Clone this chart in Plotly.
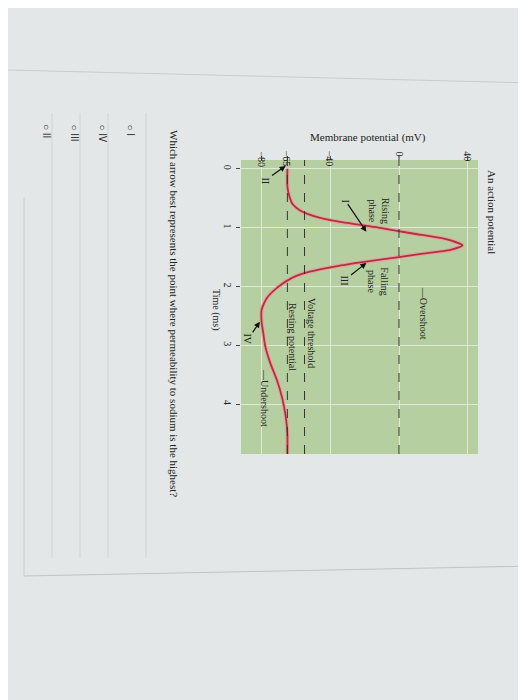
import plotly.graph_objects as go

time_ms = [0, 0.3, 0.45, 0.6, 0.7, 0.8, 0.9, 1.0, 1.1, 1.2, 1.3, 1.38, 1.45, 1.55, 1.65, 1.75, 1.85,
           2.0, 2.2, 2.4, 2.6, 2.8, 3.0, 3.3, 3.6, 3.9, 4.2, 4.5, 4.85]
voltage_mv = [-65, -65, -64, -62, -58, -50, -35, -12, 8, 28, 37, 30, 12, -12, -35, -52, -62,
              -70, -77, -80, -80, -79, -78, -75, -71, -68, -66, -65, -65]
volt_ticks = [40, 0, -40, -65, -80]
volt_labels = ["40", "0", "−40", "−65", "−80"]
time_ticks = [0, 1, 2, 3, 4]
threshold_mv = -55
resting_mv = -65
options = ["I", "IV", "III", "II"]

W, H = 526, 700
L, R, T, B = 233, 470, 152, 446
def px(x): return (x - L) / (R - L)
def py(y): return (B - y) / (B - T)

serif = "Liberation Serif"
fig = go.Figure()
fig.add_trace(go.Scatter(x=voltage_mv, y=time_ms, mode="lines",
                         line=dict(color="#e4a3a3", width=4, shape="spline", smoothing=0.6), hoverinfo="skip"))
fig.add_trace(go.Scatter(x=voltage_mv, y=time_ms, mode="lines",
                         line=dict(color="#b3323a", width=1.8, shape="spline", smoothing=0.6), hoverinfo="skip"))

shapes = []
for v in [0, threshold_mv, resting_mv]:
    shapes.append(dict(type="line", xref="x", yref="paper", x0=v, x1=v, y0=0, y1=1,
                       line=dict(color="#333", width=1, dash="dash")))
shapes += [
    dict(type="line", xref="paper", yref="paper", x0=px(0), y0=py(62), x1=px(526), y1=py(75), line=dict(color="#c8cccc", width=1)),
    dict(type="line", xref="paper", yref="paper", x0=px(16), y0=py(568), x1=px(526), y1=py(558), line=dict(color="#c0c4c4", width=1)),
    dict(type="line", xref="paper", yref="paper", x0=px(16), y0=py(190), x1=px(16), y1=py(568), line=dict(color="#c8cccc", width=1)),
]
for xl in [138, 100, 72, 44]:
    shapes.append(dict(type="line", xref="paper", yref="paper", x0=px(xl), y0=py(105), x1=px(xl), y1=py(550),
                       line=dict(color="#d0d4d4", width=1)))
for v in volt_ticks:
    shapes.append(dict(type="line", xref="x", yref="paper", x0=v, x1=v, y0=1, y1=py(T - 4),
                       line=dict(color="#333", width=1)))

def txt(x, y, s, size=10, font=serif, ref="data", angle=90, **kw):
    d = dict(x=x, y=y, text=s, showarrow=False, textangle=angle, font=dict(family=font, size=size, color="#222"))
    if ref == "paper":
        d.update(xref="paper", yref="paper")
    d.update(kw)
    return d

ann = []
ann.append(txt(px(492), py(160), "An action potential", 11, ref="paper"))
ann.append(txt(px(360), py(121), "Membrane potential (mV)", 11, ref="paper", angle=0))
for v, lab in zip(volt_ticks, volt_labels):
    ann.append(dict(x=v, y=py(141), xref="x", yref="paper", text=lab, showarrow=False, textangle=90,
                    font=dict(family=serif, size=10, color="#222")))
ann.append(txt(px(200), py(302), "Time (ms)", 10, ref="paper"))
ann.append(txt(px(158), py(305), "Which arrow best represents the point where permeability to sodium is the highest?", 11, ref="paper"))
for i, o in enumerate(options):
    ann.append(txt(px(114 - 28 * i), py(114), "○ " + o, 10, font="Open Sans", ref="paper"))
ann.append(txt(14, 2.45, "—Overshoot", 10))
ann.append(txt(-12, 0.72, "Rising<br>phase", 10))
ann.append(txt(-12, 1.92, "Falling<br>phase", 10))
ann.append(txt(-51, 2.8, "Voltage threshold", 10))
ann.append(txt(-62, 2.85, "Resting potential", 10))
ann.append(txt(-78, 3.9, "—Undershoot", 10))
for lab, (tx, ty), (hx, hy) in [("I", (-31, 0.55), (-19, 1.07)), ("III", (-32, 1.9), (-19, 1.6)),
                                ("II", (-78, 0.2), (-66, -0.05)), ("IV", (-88, 2.9), (-81, 2.6))]:
    ann.append(dict(x=hx, y=hy, ax=tx, ay=ty, axref="x", ayref="y", text=lab, showarrow=True,
                    arrowhead=2, arrowsize=1, arrowwidth=1.2, arrowcolor="#111", textangle=90,
                    font=dict(family=serif, size=10, color="#222")))

fig.update_layout(
    width=W, height=H, margin=dict(l=L, r=W - R, t=T, b=H - B),
    paper_bgcolor="#e4e7e7", plot_bgcolor="#b6cfa0", showlegend=False,
    shapes=shapes, annotations=ann,
    xaxis=dict(range=[-92, 46], tickvals=[-80, -40, 0, 40], showticklabels=False, gridcolor="#dfe9d6",
               zeroline=False, ticks=""),
    yaxis=dict(range=[4.85, -0.15], tickvals=time_ticks, tickangle=90, gridcolor="#dfe9d6", zeroline=False,
               tickfont=dict(family=serif, size=10, color="#222"), ticks="outside", ticklen=4),
)
fig.write_html("out.html")
